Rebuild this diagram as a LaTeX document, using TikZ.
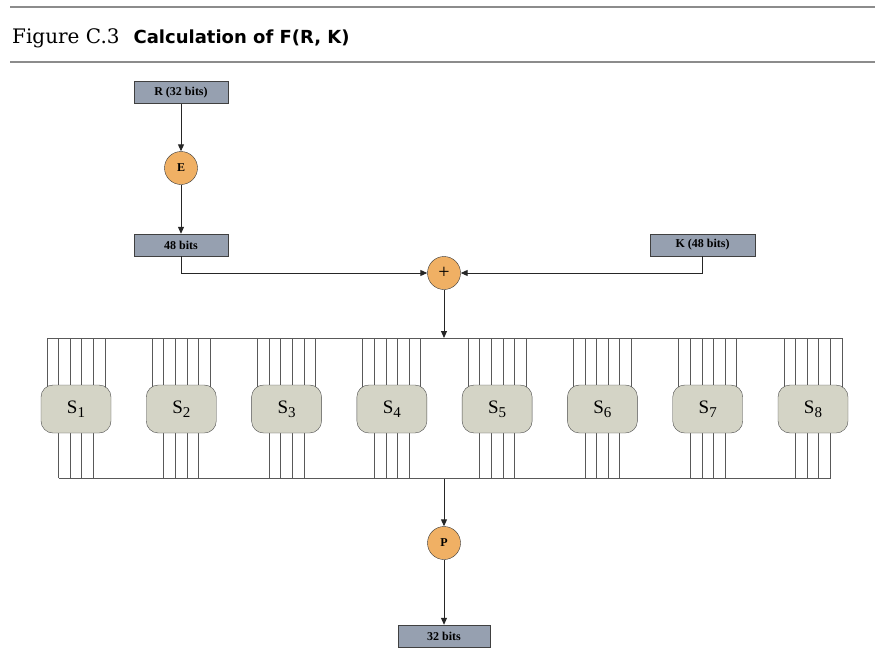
\documentclass[tikz,border=0pt]{standalone}
\usepackage{fontspec}
\setmainfont{Liberation Serif}
\newfontfamily\titleserif{DejaVu Serif}
\newfontfamily\titlesans{DejaVu Sans}
\usetikzlibrary{arrows.meta}
\definecolor{boxgray}{RGB}{150,160,176}
\definecolor{orng}{RGB}{240,176,100}
\definecolor{sgray}{RGB}{212,212,198}
\begin{document}
\begin{tikzpicture}[x=1pt,y=-1pt,
  lbl/.style={draw=black!75,fill=boxgray,minimum height=22pt,inner sep=0pt,font=\bfseries\fontsize{12}{12}\selectfont},
  op/.style={circle,draw=black!80,fill=orng,minimum size=33pt,inner sep=0pt,font=\bfseries\fontsize{12}{12}\selectfont},
  sbox/.style={draw=black!70,fill=sgray,rounded corners=12pt,minimum width=70pt,minimum height=48pt,inner sep=0pt,font=\fontsize{19}{19}\selectfont},
  arr/.style={draw=black!85,line width=1pt,-{Triangle[length=7pt,width=6pt]}},
  wire/.style={draw=black!65,line width=0.8pt}]
\useasboundingbox (0,0) rectangle (875,656);
\draw[black!45,line width=1.2pt] (10,7) -- (875,7);
\draw[black!45,line width=1.2pt] (10,62) -- (875,62);
\node[anchor=base west,inner sep=0pt] (title) at (12,43) {{\titleserif\fontsize{20}{20}\selectfont Figure C.3}\hspace{14pt}{\titlesans\bfseries\fontsize{18}{18}\selectfont Calculation of F(R, K)}};
\node[lbl,minimum width=94pt] (R) at (181,92.5) {R (32 bits)};
\node[op] (E) at (181,168) {E};
\node[lbl,minimum width=94pt] (B48) at (181,245) {48 bits};
\node[lbl,minimum width=105pt] (K) at (702.5,245) {K (48 bits)};
\node[op] (X) at (444,273) {\fontsize{20}{20}\selectfont\mdseries +};
\node[op] (P) at (444,543) {P};
\node[lbl,minimum width=92pt] (O) at (444,636) {32 bits};
\coordinate (top) at (444,338);
\coordinate (bot) at (444,478);
\draw[arr] (R) -- (E);
\draw[arr] (E) -- (B48);
\draw[arr] (B48.south) |- (X.west);
\draw[arr] (K.south) |- (X.east);
\draw[arr] (X) -- (top);
\draw[arr] (bot) -- (P);
\draw[arr] (P) -- (O);
\draw[wire] (47,338) -- (842,338);
\draw[wire] (58.5,478) -- (831,478);
\foreach \i in {1,...,8}{
  \pgfmathsetmacro{\cx}{76+105.2857*(\i-1)}
  \foreach \d in {-29,-17.4,-5.8,5.8,17.4,29}{\draw[wire] (\cx+\d,338) -- (\cx+\d,409);}
  \foreach \d in {-17.4,-5.8,5.8,17.4}{\draw[wire] (\cx+\d,409) -- (\cx+\d,478);}
  \node[sbox] (S\i) at (\cx,409) {S\raisebox{-4pt}{\fontsize{15}{15}\selectfont\i}};
}
\end{tikzpicture}
\end{document}
